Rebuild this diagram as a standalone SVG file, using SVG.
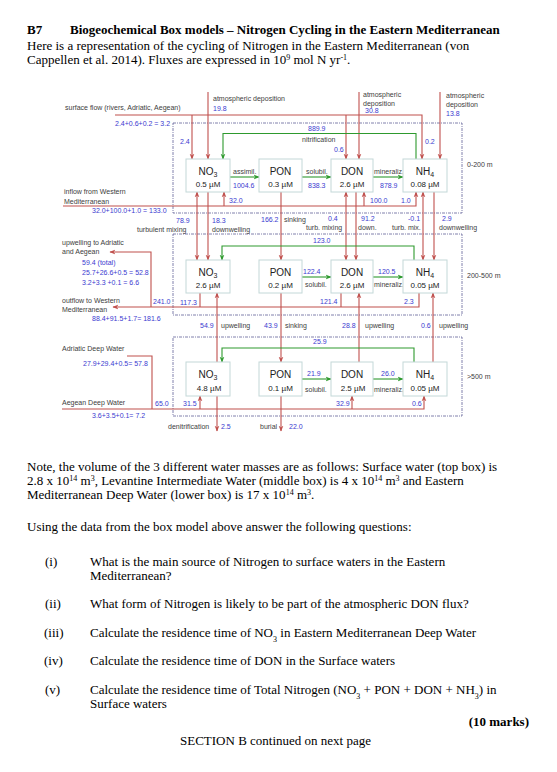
<svg xmlns="http://www.w3.org/2000/svg" width="557" height="772" viewBox="0 0 557 772">
<style>
.t{font-family:"Liberation Serif","Times New Roman",serif;font-size:13px;fill:#000}
.b{font-weight:bold}
.l{font-family:"Liberation Sans",Arial,sans-serif;font-size:7px;fill:#404040}
.n{font-family:"Liberation Sans",Arial,sans-serif;font-size:7px;fill:#3b3bd0}
.nm{font-family:"Liberation Sans",Arial,sans-serif;font-size:10px;fill:#222;text-anchor:middle}
.cv{font-family:"Liberation Sans",Arial,sans-serif;font-size:8px;fill:#222;text-anchor:middle}
.box{fill:#fff;stroke:#c3d8d8;stroke-width:1}
.zone{fill:none;stroke:#5f5f98;stroke-width:0.8;stroke-dasharray:3 1 1 1}
.r{fill:none;stroke:#c0504d;stroke-width:1.1}
.g{fill:none;stroke:#2e9a2e;stroke-width:1.1}
.ra{marker-end:url(#ar)}
.rd{marker-start:url(#ar);marker-end:url(#ar)}
.ga{marker-end:url(#ag)}
</style>
<defs>
<marker id="ar" viewBox="0 0 10 10" refX="9" refY="5" markerWidth="6" markerHeight="6" markerUnits="userSpaceOnUse" orient="auto-start-reverse"><path d="M0,1 L10,5 L0,9 L3,5 z" fill="#c0504d"/></marker>
<marker id="ag" viewBox="0 0 10 10" refX="9" refY="5" markerWidth="6" markerHeight="6" markerUnits="userSpaceOnUse" orient="auto-start-reverse"><path d="M0,1 L10,5 L0,9 L3,5 z" fill="#2e9a2e"/></marker>
</defs>

<g id="header">
<text class="t b" x="27" y="34">B7</text>
<text class="t b" x="70" y="34">Biogeochemical Box models – Nitrogen Cycling in the Eastern Mediterranean</text>
<text class="t" x="27" y="50">Here is a representation of the cycling of Nitrogen in the Eastern Mediterranean (von</text>
<text class="t" x="27" y="64">Cappellen et al. 2014). Fluxes are expressed in 10<tspan baseline-shift="super" font-size="8">9</tspan> mol N yr<tspan baseline-shift="super" font-size="8">-1</tspan>.</text>
</g>

<g id="zones">
<rect class="zone" x="173" y="123" width="289" height="90"/>
<rect class="zone" x="173" y="234" width="289" height="81"/>
<rect class="zone" x="173" y="337" width="289" height="79"/>
<text class="l" x="467" y="167">0-200 m</text>
<text class="l" x="467" y="278">200-500 m</text>
<text class="l" x="467" y="379">&gt;500 m</text>
</g>

<g id="connectors">
<path class="r ra" d="M115,115 H422 V159"/>
<path class="r ra" d="M192,115 V159"/>
<path class="r ra" d="M346,115 V159"/>
<path class="r ra" d="M208,92 V159"/>
<path class="r ra" d="M359,92 V159"/>
<path class="r ra" d="M440,92 V159"/>
<path class="g ga" d="M416,159 V133.5 H223 V159"/>
<path class="g ga" d="M230,177 H259"/>
<path class="g ga" d="M302,177 H331"/>
<path class="g ga" d="M373,177 H403"/>
<path class="r ra" d="M63,206 H416 V192"/>
<path class="r ra" d="M224,206 V192"/>
<path class="r ra" d="M364,206 V192"/>
<path class="r rd" d="M197,192 V260"/>
<path class="r ra" d="M208,192 V260"/>
<path class="r ra" d="M281,192 V260"/>
<path class="r rd" d="M346,192 V260"/>
<path class="r ra" d="M356,192 V260"/>
<path class="r rd" d="M423,192 V260"/>
<path class="r ra" d="M434,192 V260"/>
<path class="g ga" d="M414,260 V246 H222 V260"/>
<path class="g ga" d="M302,277 H331"/>
<path class="g ga" d="M373,277 H403"/>
<path class="r ra" d="M419,293 V307 H113"/>
<path class="r" d="M200,293 V307"/>
<path class="r" d="M341,293 V307"/>
<path class="r ra" d="M151,307 V252 H110"/>
<path class="r ra" d="M217,362 V293"/>
<path class="r ra" d="M281,293 V362"/>
<path class="r ra" d="M359,362 V293"/>
<path class="r ra" d="M433,362 V293"/>
<path class="g ga" d="M414,362 V348 H222 V362"/>
<path class="g ga" d="M302,379 H331"/>
<path class="g ga" d="M373,379 H403"/>
<path class="r ra" d="M62,409 H424 V396"/>
<path class="r ra" d="M200,409 V396"/>
<path class="r ra" d="M352,409 V396"/>
<path class="r" d="M127,356 H152 V409"/>
<path class="r ra" d="M217,396 V431"/>
<path class="r ra" d="M281,396 V431"/>
</g>

<g id="labels">
<text class="l" x="65" y="110">surface flow (rivers, Adriatic, Aegean)</text>
<text class="n" x="115" y="126">2.4+0.6+0.2 = 3.2</text>
<text class="l" x="213" y="101">atmospheric deposition</text>
<text class="n" x="213" y="111">19.8</text>
<text class="l" x="363" y="97">atmospheric</text>
<text class="l" x="363" y="106">deposition</text>
<text class="n" x="365" y="113">30.8</text>
<text class="l" x="446" y="98">atmospheric</text>
<text class="l" x="446" y="107">deposition</text>
<text class="n" x="446" y="116">13.8</text>
<text class="n" x="180" y="144">2.4</text>
<text class="n" x="334" y="152">0.6</text>
<text class="n" x="425" y="144">0.2</text>
<text class="n" x="308" y="131">889.9</text>
<text class="l" x="302" y="142">nitrification</text>
<text class="l" x="233" y="174">assimil.</text>
<text class="n" x="233" y="188">1004.6</text>
<text class="l" x="306" y="174">solubil.</text>
<text class="n" x="308" y="188">838.3</text>
<text class="l" x="374" y="174">mineraliz.</text>
<text class="n" x="380" y="188">878.9</text>

<text class="l" x="64" y="194">inflow from Western</text>
<text class="l" x="64" y="204">Mediterranean</text>
<text class="n" x="92" y="213">32.0+100.0+1.0 = 133.0</text>
<text class="n" x="229" y="203">32.0</text>
<text class="n" x="370" y="203">100.0</text>
<text class="n" x="401" y="203">1.0</text>

<text class="n" x="176" y="223">78.9</text>
<text class="l" x="137" y="232">turbulent mixing</text>
<text class="n" x="212" y="223">18.3</text>
<text class="l" x="212" y="232">downwelling</text>
<text class="n" x="261" y="222">166.2</text>
<text class="l" x="284" y="222">sinking</text>
<text class="n" x="328" y="221">0.4</text>
<text class="l" x="306" y="230">turb. mixing</text>
<text class="n" x="361" y="221">91.2</text>
<text class="l" x="358" y="230">down.</text>
<text class="n" x="408" y="221">-0.1</text>
<text class="l" x="392" y="230">turb. mix.</text>
<text class="n" x="442" y="221">2.9</text>
<text class="l" x="439" y="230">downwelling</text>

<text class="n" x="313" y="243">123.0</text>
<text class="n" x="303" y="274">122.4</text>
<text class="l" x="305" y="287">solubil.</text>
<text class="n" x="378" y="274">120.5</text>
<text class="l" x="374" y="287">mineraliz.</text>

<text class="l" x="62" y="245">upwelling to Adriatic</text>
<text class="l" x="62" y="254">and Aegean</text>
<text class="n" x="82" y="265">59.4 (total)</text>
<text class="n" x="82" y="275">25.7+26.6+0.5 = 52.8</text>
<text class="n" x="82" y="285">3.2+3.3 +0.1 = 6.6</text>
<text class="l" x="62" y="303">outflow to Western</text>
<text class="l" x="62" y="312">Mediterranean</text>
<text class="n" x="92" y="321">88.4+91.5+1.7= 181.6</text>
<text class="n" x="153" y="304">241.0</text>
<text class="n" x="180" y="305">117.3</text>
<text class="n" x="320" y="304">121.4</text>
<text class="n" x="404" y="304">2.3</text>

<text class="n" x="200" y="328">54.9</text>
<text class="l" x="221" y="328">upwelling</text>
<text class="n" x="264" y="328">43.9</text>
<text class="l" x="285" y="328">sinking</text>
<text class="n" x="342" y="328">28.8</text>
<text class="l" x="365" y="328">upwelling</text>
<text class="n" x="421" y="328">0.6</text>
<text class="l" x="439" y="328">upwelling</text>

<text class="n" x="313" y="344">25.9</text>
<text class="n" x="307" y="376">21.9</text>
<text class="l" x="305" y="392">solubil.</text>
<text class="n" x="381" y="376">26.0</text>
<text class="l" x="374" y="392">mineraliz.</text>

<text class="l" x="62" y="351">Adriatic Deep Water</text>
<text class="n" x="83" y="366">27.9+29.4+0.5= 57.8</text>
<text class="l" x="62" y="405">Aegean Deep Water</text>
<text class="n" x="92" y="418">3.6+3.5+0.1= 7.2</text>
<text class="n" x="155" y="406">65.0</text>
<text class="n" x="183" y="406">31.5</text>
<text class="n" x="336" y="406">32.9</text>
<text class="n" x="412" y="406">0.6</text>
<text class="l" x="168" y="429">denitrification</text>
<text class="n" x="221" y="429">2.5</text>
<text class="l" x="260" y="429">burial</text>
<text class="n" x="289" y="429">22.0</text>
</g>

<g id="no3-s"><rect class="box" x="186" y="159" width="44" height="33"/><text class="nm" x="208" y="175">NO<tspan font-size="7" dy="2">3</tspan></text><text class="cv" x="208" y="187">0.5 µM</text></g>
<g id="pon-s"><rect class="box" x="259" y="159" width="43" height="33"/><text class="nm" x="280.5" y="175">PON</text><text class="cv" x="280.5" y="187">0.3 µM</text></g>
<g id="don-s"><rect class="box" x="331" y="159" width="42" height="33"/><text class="nm" x="352" y="175">DON</text><text class="cv" x="352" y="187">2.6 µM</text></g>
<g id="nh4-s"><rect class="box" x="403" y="159" width="44" height="33"/><text class="nm" x="425" y="175">NH<tspan font-size="7" dy="2">4</tspan></text><text class="cv" x="425" y="187">0.08 µM</text></g>

<g id="no3-i"><rect class="box" x="186" y="260" width="44" height="33"/><text class="nm" x="208" y="276">NO<tspan font-size="7" dy="2">3</tspan></text><text class="cv" x="208" y="288">2.6 µM</text></g>
<g id="pon-i"><rect class="box" x="259" y="260" width="43" height="33"/><text class="nm" x="280.5" y="276">PON</text><text class="cv" x="280.5" y="288">0.2 µM</text></g>
<g id="don-i"><rect class="box" x="331" y="260" width="42" height="33"/><text class="nm" x="352" y="276">DON</text><text class="cv" x="352" y="288">2.6 µM</text></g>
<g id="nh4-i"><rect class="box" x="403" y="260" width="44" height="33"/><text class="nm" x="425" y="276">NH<tspan font-size="7" dy="2">4</tspan></text><text class="cv" x="425" y="288">0.05 µM</text></g>

<g id="no3-d"><rect class="box" x="186" y="362" width="44" height="34"/><text class="nm" x="208" y="378">NO<tspan font-size="7" dy="2">3</tspan></text><text class="cv" x="209" y="391">4.8 µM</text></g>
<g id="pon-d"><rect class="box" x="259" y="362" width="43" height="34"/><text class="nm" x="280.5" y="378">PON</text><text class="cv" x="280.5" y="391">0.1 µM</text></g>
<g id="don-d"><rect class="box" x="331" y="362" width="42" height="34"/><text class="nm" x="352" y="378">DON</text><text class="cv" x="353" y="391">2.5 µM</text></g>
<g id="nh4-d"><rect class="box" x="403" y="362" width="44" height="34"/><text class="nm" x="425" y="378">NH<tspan font-size="7" dy="2">4</tspan></text><text class="cv" x="425" y="391">0.05 µM</text></g>

<g id="questions">
<text class="t" x="27" y="471">Note, the volume of the 3 different water masses are as follows: Surface water (top box) is</text>
<text class="t" x="27" y="485">2.8 x 10<tspan baseline-shift="super" font-size="8">14</tspan> m<tspan baseline-shift="super" font-size="8">3</tspan>, Levantine Intermediate Water (middle box) is 4 x 10<tspan baseline-shift="super" font-size="8">14</tspan> m<tspan baseline-shift="super" font-size="8">3</tspan> and Eastern</text>
<text class="t" x="27" y="499">Mediterranean Deep Water (lower box) is 17 x 10<tspan baseline-shift="super" font-size="8">14</tspan> m<tspan baseline-shift="super" font-size="8">3</tspan>.</text>
<text class="t" x="27" y="531">Using the data from the box model above answer the following questions:</text>
<text class="t" x="45" y="566">(i)</text>
<text class="t" x="90" y="566">What is the main source of Nitrogen to surface waters in the Eastern</text>
<text class="t" x="90" y="580">Mediterranean?</text>
<text class="t" x="45" y="608">(ii)</text>
<text class="t" x="90" y="608">What form of Nitrogen is likely to be part of the atmospheric DON flux?</text>
<text class="t" x="44" y="637">(iii)</text>
<text class="t" x="90" y="637">Calculate the residence time of NO<tspan baseline-shift="sub" font-size="8">3</tspan> in Eastern Mediterranean Deep Water</text>
<text class="t" x="44" y="665">(iv)</text>
<text class="t" x="90" y="665">Calculate the residence time of DON in the Surface waters</text>
<text class="t" x="45" y="694">(v)</text>
<text class="t" x="90" y="694">Calculate the residence time of Total Nitrogen (NO<tspan baseline-shift="sub" font-size="8">3</tspan> + PON + DON + NH<tspan baseline-shift="sub" font-size="8">3</tspan>) in</text>
<text class="t" x="90" y="708">Surface waters</text>
<text class="t b" x="529" y="726" text-anchor="end">(10 marks)</text>
<text class="t" x="180" y="745">SECTION B continued on next page</text>
</g>
</svg>
